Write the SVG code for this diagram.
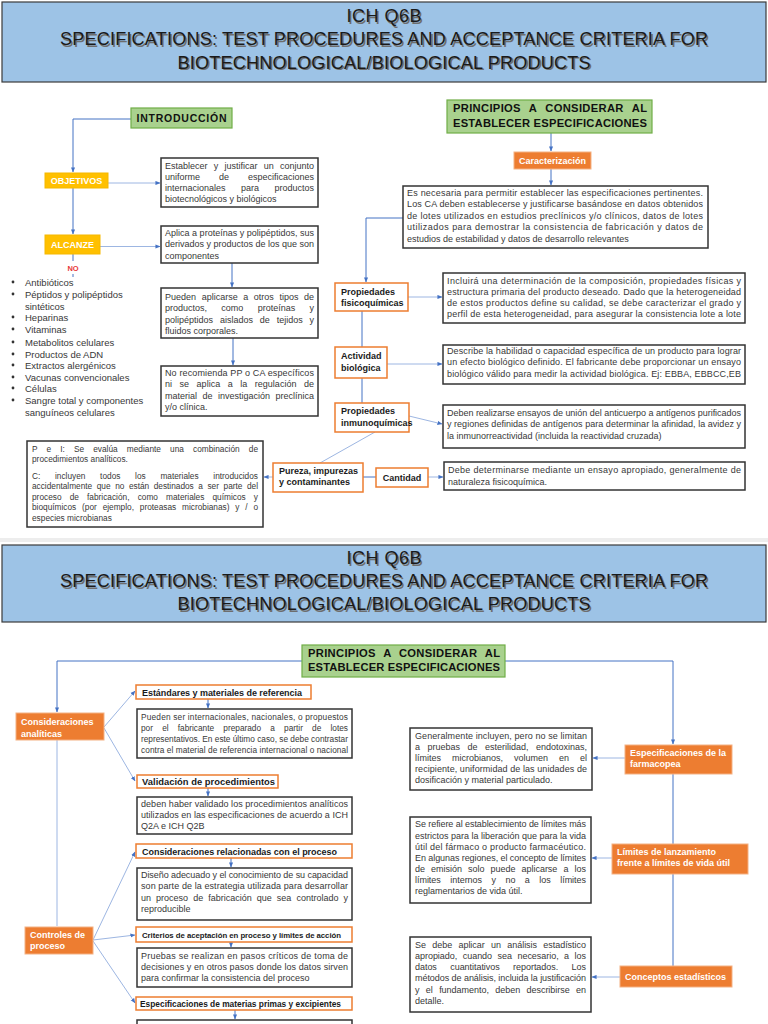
<svg xmlns="http://www.w3.org/2000/svg" width="768" height="1024" viewBox="0 0 768 1024">
<style>
text{font-family:"Liberation Sans",Arial,Helvetica,sans-serif}
.t{font-size:9px;fill:#383838}
.s{font-size:8.3px;fill:#383838}
.li{font-size:9.5px;fill:#383838}
.lb{font-size:9px;font-weight:bold;fill:#1a1a1a}
.w{font-size:9px;font-weight:bold;fill:#ffffff}
.gt{font-size:11.2px;font-weight:bold;fill:#111}
.h{font-size:18px;fill:#1a1a1a;text-anchor:middle}
.hs{fill:#6e6e6e}
.m{text-anchor:middle}
.hdr{fill:#9DC3E6;stroke:#3b3b3b;stroke-width:1.2}
.box{fill:#fff;stroke:#333;stroke-width:1.5}
.ob{fill:#fff;stroke:#ED7D31;stroke-width:1.5}
.of{fill:#ED7D31;stroke:#F4B183;stroke-width:1}
.yf{fill:#FFC000;stroke:#F5B800;stroke-width:1}
.gf{fill:#A9D18E;stroke:#70AD47;stroke-width:1.2}
.c{fill:none;stroke:#4472C4;stroke-width:1}
.cl{fill:none;stroke:#9DB6E2;stroke-width:1}
</style>
<defs>
<marker id="a" viewBox="0 0 6 6" refX="5.5" refY="3" markerWidth="5" markerHeight="5" markerUnits="userSpaceOnUse" orient="auto">
<path d="M0,0.5 L6,3 L0,5.5 z" fill="#4472C4"/>
</marker>
</defs>
<rect width="768" height="1024" fill="#fff"/>
<rect x="0" y="538" width="768" height="4" fill="#EDEDED"/>

<!-- Header 1 -->
<g id="header1">
<rect class="hdr" x="2" y="2" width="764" height="80"/>
<g class="hs" transform="translate(1.6,1.6)">
<text class="h hs" x="384" y="22" textLength="75">ICH Q6B</text>
<text class="h hs" x="384" y="45" textLength="648">SPECIFICATIONS: TEST PROCEDURES AND ACCEPTANCE CRITERIA FOR</text>
<text class="h hs" x="384" y="68.5" textLength="413">BIOTECHNOLOGICAL/BIOLOGICAL PRODUCTS</text>
</g>
<text class="h" x="384" y="22" textLength="75">ICH Q6B</text>
<text class="h" x="384" y="45" textLength="648">SPECIFICATIONS: TEST PROCEDURES AND ACCEPTANCE CRITERIA FOR</text>
<text class="h" x="384" y="68.5" textLength="413">BIOTECHNOLOGICAL/BIOLOGICAL PRODUCTS</text>
</g>

<!-- Connectors -->
<g id="connectors">
<path class="c" d="M131,119 H73 V172" marker-end="url(#a)"/>
<path class="c" d="M73,188 V234" marker-end="url(#a)"/>
<path class="c" d="M73,254 V261"/>
<path class="c" d="M73,274 V277"/>
<path class="cl" d="M108,183 H160" marker-end="url(#a)"/>
<path class="cl" d="M100,246.5 H160" marker-end="url(#a)"/>
<path class="c" d="M232,263 V287" marker-end="url(#a)"/>
<path class="c" d="M233,338 V365" marker-end="url(#a)"/>
<path class="c" d="M551,133 V151" marker-end="url(#a)"/>
<path class="c" d="M551,169 V185" marker-end="url(#a)"/>
<path class="c" d="M403,218 H366 V282" marker-end="url(#a)"/>
<path class="cl" d="M408,297 H442" marker-end="url(#a)"/>
<path class="c" d="M362,311 V347"/>
<path class="cl" d="M387,364 H442" marker-end="url(#a)"/>
<path class="c" d="M362,378 V403"/>
<path class="cl" d="M409,416 L442,424" marker-end="url(#a)"/>
<path class="cl" d="M375,432 L320,463"/>
<path class="cl" d="M273,477 H264" marker-end="url(#a)"/>
<path class="c" d="M363,477 H376"/>
<path class="cl" d="M428,477 H443" marker-end="url(#a)"/>

<path class="c" d="M302,661 H57 V712" marker-end="url(#a)"/>
<path class="c" d="M505,661 H673 V744" marker-end="url(#a)"/>
<path class="cl" d="M104,727 L135,691" marker-end="url(#a)"/>
<path class="cl" d="M104,728 L135,781" marker-end="url(#a)"/>
<path class="c" d="M208,699 V708" marker-end="url(#a)"/>
<path class="c" d="M208,788 V796" marker-end="url(#a)"/>
<path class="cl" d="M57,740 V926"/>
<path class="cl" d="M93,940 L135,852" marker-end="url(#a)"/>
<path class="cl" d="M93,940 L135,935" marker-end="url(#a)"/>
<path class="cl" d="M93,941 L135,1003" marker-end="url(#a)"/>
<path class="c" d="M231,858 V867" marker-end="url(#a)"/>
<path class="c" d="M231,942 V947" marker-end="url(#a)"/>
<path class="c" d="M235,1010 V1019" marker-end="url(#a)"/>
<path class="cl" d="M625,758 H593" marker-end="url(#a)"/>
<path class="c" d="M673,774 V844"/>
<path class="cl" d="M612,858 H592" marker-end="url(#a)"/>
<path class="c" d="M673,874 V966"/>
<path class="cl" d="M620,977 H592" marker-end="url(#a)"/>
</g>

<!-- Page 1 nodes -->
<g id="introduccion">
<rect class="gf" x="131" y="108" width="101" height="20"/>
<text class="gt m" x="181.5" y="122" style="font-size:10.5px" textLength="90">INTRODUCCIÓN</text>
</g>
<g id="objetivos">
<rect class="yf" x="45" y="173" width="63" height="15"/>
<text class="w m" x="76.5" y="184">OBJETIVOS</text>
</g>
<g id="objetivos-desc">
<rect class="box" x="161" y="158" width="157" height="49"/>
<text class="t" x="165" y="169" word-spacing="3.7" textLength="149">Establecer y justificar un conjunto</text>
<text class="t" x="165" y="180" word-spacing="16.5" textLength="149">uniforme de especificaciones</text>
<text class="t" x="165" y="191" word-spacing="13" textLength="149">internacionales para productos</text>
<text class="t" x="165" y="202">biotecnológicos y biológicos</text>
</g>
<g id="alcanze">
<rect class="yf" x="45" y="235" width="55" height="19"/>
<text class="w m" x="72.5" y="248">ALCANZE</text>
</g>
<g id="alcanze-desc">
<rect class="box" x="161" y="226" width="157" height="37"/>
<text class="t" x="165" y="235.5" textLength="149">Aplica a proteínas y polipéptidos, sus</text>
<text class="t" x="165" y="247" textLength="149">derivados y productos de los que son</text>
<text class="t" x="165" y="258.5">componentes</text>
</g>
<g id="no-list">
<text x="73" y="270.5" class="m" style="font-size:7.5px;font-weight:bold;fill:#E8393A">NO</text>
<g fill="#333">
<circle cx="13" cy="282" r="1.4"/><circle cx="13" cy="294" r="1.4"/><circle cx="13" cy="317" r="1.4"/>
<circle cx="13" cy="329" r="1.4"/><circle cx="13" cy="342" r="1.4"/><circle cx="13" cy="354" r="1.4"/>
<circle cx="13" cy="365" r="1.4"/><circle cx="13" cy="377" r="1.4"/><circle cx="13" cy="388" r="1.4"/>
<circle cx="13" cy="400" r="1.4"/>
</g>
<text class="li" x="25" y="285.5">Antibióticos</text>
<text class="li" x="25" y="297.5">Péptidos y polipéptidos</text>
<text class="li" x="25" y="309.5">sintéticos</text>
<text class="li" x="25" y="320.5">Heparinas</text>
<text class="li" x="25" y="332.5">Vitaminas</text>
<text class="li" x="25" y="345.5">Metabolitos celulares</text>
<text class="li" x="25" y="357.5">Productos de ADN</text>
<text class="li" x="25" y="368.5">Extractos alergénicos</text>
<text class="li" x="25" y="380.5">Vacunas convencionales</text>
<text class="li" x="25" y="391.5">Células</text>
<text class="li" x="25" y="403.5">Sangre total y componentes</text>
<text class="li" x="25" y="415.5">sanguíneos celulares</text>
</g>
<g id="pueden-aplicarse">
<rect class="box" x="161" y="288" width="157" height="50"/>
<text class="t" x="165" y="299.5" word-spacing="3" textLength="149">Pueden aplicarse a otros tipos de</text>
<text class="t" x="165" y="311" word-spacing="11.8" textLength="149">productos, como proteínas y</text>
<text class="t" x="165" y="322.5" word-spacing="4.3" textLength="149">polipéptidos aislados de tejidos y</text>
<text class="t" x="165" y="334">fluidos corporales.</text>
</g>
<g id="no-recomienda">
<rect class="box" x="161" y="366" width="157" height="50"/>
<text class="t" x="165" y="375.5" textLength="149">No recomienda PP o CA específicos</text>
<text class="t" x="165" y="387" word-spacing="5" textLength="149">ni se aplica a la regulación de</text>
<text class="t" x="165" y="398.5" word-spacing="3" textLength="149">material de investigación preclínica</text>
<text class="t" x="165" y="410">y/o clínica.</text>
</g>
<g id="principios1">
<rect class="gf" x="447" y="100" width="205" height="33"/>
<text class="gt" x="453" y="111.5" word-spacing="5" textLength="194">PRINCIPIOS A CONSIDERAR AL</text>
<text class="gt" x="453" y="126.5" textLength="194">ESTABLECER ESPECIFICACIONES</text>
</g>
<g id="caracterizacion">
<rect class="of" x="514" y="152" width="77" height="17"/>
<text class="w m" x="552.5" y="164">Caracterización</text>
</g>
<g id="es-necesaria">
<rect class="box" x="403" y="186" width="305" height="62"/>
<text class="t" x="407" y="195.5" textLength="296">Es necesaria para permitir establecer las especificaciones pertinentes.</text>
<text class="t" x="407" y="207" textLength="296">Los CA deben establecerse y justificarse basándose en datos obtenidos</text>
<text class="t" x="407" y="218.5" textLength="296">de lotes utilizados en estudios preclínicos y/o clínicos, datos de lotes</text>
<text class="t" x="407" y="230" textLength="296">utilizados para demostrar la consistencia de fabricación y datos de</text>
<text class="t" x="407" y="241.5">estudios de estabilidad y datos de desarrollo relevantes</text>
</g>
<g id="fisicoquimicas">
<rect class="ob" x="335" y="283" width="73" height="28"/>
<text class="lb" x="341" y="294.5">Propiedades</text>
<text class="lb" x="341" y="306">fisicoquímicas</text>
</g>
<g id="incluira">
<rect class="box" x="443" y="273" width="302" height="50"/>
<text class="t" x="447" y="284" textLength="294">Incluirá una determinación de la composición, propiedades físicas y</text>
<text class="t" x="447" y="295" textLength="294">estructura primaria del producto deseado. Dado que la heterogeneidad</text>
<text class="t" x="447" y="306" textLength="294">de estos productos define su calidad, se debe caracterizar el grado y</text>
<text class="t" x="447" y="317" textLength="294">perfil de esta heterogeneidad, para asegurar la consistencia lote a lote</text>
</g>
<g id="actividad">
<rect class="ob" x="335" y="347" width="52" height="31"/>
<text class="lb" x="341" y="359">Actividad</text>
<text class="lb" x="341" y="371">biológica</text>
</g>
<g id="describe">
<rect class="box" x="443" y="345" width="302" height="39"/>
<text class="t" x="447" y="353.5" textLength="294">Describe la habilidad o capacidad específica de un producto para lograr</text>
<text class="t" x="447" y="365" textLength="294">un efecto biológico definido. El fabricante debe proporcionar un ensayo</text>
<text class="t" x="447" y="376.5" textLength="294">biológico válido para medir la actividad biológica. Ej: EBBA, EBBCC,EB</text>
</g>
<g id="inmunoquimicas">
<rect class="ob" x="335" y="403" width="74" height="29"/>
<text class="lb" x="341" y="413.5">Propiedades</text>
<text class="lb" x="341" y="425.5">inmunoquímicas</text>
</g>
<g id="deben-realizarse">
<rect class="box" x="443" y="405" width="302" height="43"/>
<text class="t" x="447" y="415.5" textLength="294">Deben realizarse ensayos de unión del anticuerpo a antígenos purificados</text>
<text class="t" x="447" y="427" textLength="294">y regiones definidas de antígenos para determinar la afinidad, la avidez y</text>
<text class="t" x="447" y="438.5">la inmunorreactividad (incluida la reactividad cruzada)</text>
</g>
<g id="pureza">
<rect class="ob" x="273" y="463" width="90" height="29"/>
<text class="lb" x="279" y="473.5">Pureza, impurezas</text>
<text class="lb" x="279" y="485">y contaminantes</text>
</g>
<g id="cantidad">
<rect class="ob" x="376" y="468" width="52" height="19"/>
<text class="lb m" x="402" y="481">Cantidad</text>
</g>
<g id="debe-determinarse">
<rect class="box" x="444" y="462" width="301" height="28"/>
<text class="t" x="448" y="473" textLength="293">Debe determinarse mediante un ensayo apropiado, generalmente de</text>
<text class="t" x="448" y="484.5">naturaleza fisicoquímica.</text>
</g>
<g id="pei">
<rect class="box" x="27" y="441" width="236" height="86"/>
<text class="s" x="32" y="451.5" word-spacing="6.8" textLength="226">P e I: Se evalúa mediante una combinación de</text>
<text class="s" x="32" y="462">procedimientos analíticos.</text>
<text class="s" x="32" y="478.5" word-spacing="12.4" textLength="226">C: incluyen todos los materiales introducidos</text>
<text class="s" x="32" y="489" word-spacing="2.3" textLength="226">accidentalmente que no están destinados a ser parte del</text>
<text class="s" x="32" y="499.5" word-spacing="5.8" textLength="226">proceso de fabricación, como materiales químicos y</text>
<text class="s" x="32" y="510" word-spacing="3.5" textLength="226">bioquímicos (por ejemplo, proteasas microbianas) y / o</text>
<text class="s" x="32" y="520.5">especies microbianas</text>
</g>

<!-- Header 2 -->
<g id="header2">
<rect class="hdr" x="2" y="545" width="764" height="77"/>
<g class="hs" transform="translate(1.6,1.6)">
<text class="h hs" x="384" y="564" textLength="75">ICH Q6B</text>
<text class="h hs" x="384" y="587" textLength="648">SPECIFICATIONS: TEST PROCEDURES AND ACCEPTANCE CRITERIA FOR</text>
<text class="h hs" x="384" y="610" textLength="413">BIOTECHNOLOGICAL/BIOLOGICAL PRODUCTS</text>
</g>
<text class="h" x="384" y="564" textLength="75">ICH Q6B</text>
<text class="h" x="384" y="587" textLength="648">SPECIFICATIONS: TEST PROCEDURES AND ACCEPTANCE CRITERIA FOR</text>
<text class="h" x="384" y="610" textLength="413">BIOTECHNOLOGICAL/BIOLOGICAL PRODUCTS</text>
</g>

<!-- Page 2 nodes -->
<g id="principios2">
<rect class="gf" x="302" y="645" width="203" height="32"/>
<text class="gt" x="308" y="657" word-spacing="4.3" textLength="192">PRINCIPIOS A CONSIDERAR AL</text>
<text class="gt" x="308" y="671" textLength="192">ESTABLECER ESPECIFICACIONES</text>
</g>
<g id="consideraciones-analiticas">
<rect class="of" x="16" y="713" width="88" height="27"/>
<text class="w" x="21" y="725">Consideraciones</text>
<text class="w" x="21" y="736.5">analíticas</text>
</g>
<g id="estandares">
<rect class="ob" x="136" y="685" width="175" height="14"/>
<text class="lb" x="142" y="695.5" textLength="160">Estándares y materiales de referencia</text>
</g>
<g id="pueden-ser">
<rect class="box" x="137" y="709" width="215" height="49"/>
<text class="s" x="141" y="720" textLength="207">Pueden ser internacionales, nacionales, o propuestos</text>
<text class="s" x="141" y="731" word-spacing="6.9" textLength="207">por el fabricante preparado a partir de lotes</text>
<text class="s" x="141" y="742" textLength="207">representativos. En este último caso, se debe contrastar</text>
<text class="s" x="141" y="753" textLength="207">contra el material de referencia internacional o nacional</text>
</g>
<g id="validacion">
<rect class="ob" x="137" y="775" width="141" height="13"/>
<text class="lb" x="142" y="785" style="font-size:9.4px" textLength="133">Validación de procedimientos</text>
</g>
<g id="deben-haber">
<rect class="box" x="137" y="797" width="215" height="37"/>
<text class="t" x="141" y="806.5" textLength="207">deben haber validado los procedimientos analíticos</text>
<text class="t" x="141" y="817.5" textLength="207">utilizados en las especificaciones de acuerdo a  ICH</text>
<text class="t" x="141" y="828.5">Q2A e ICH Q2B</text>
</g>
<g id="controles">
<rect class="of" x="25" y="927" width="68" height="27"/>
<text class="w" x="30" y="937.5">Controles de</text>
<text class="w" x="30" y="949">proceso</text>
</g>
<g id="consideraciones-proceso">
<rect class="ob" x="136" y="844" width="216" height="14"/>
<text class="lb" x="142" y="854.5" textLength="195">Consideraciones relacionadas con el proceso</text>
</g>
<g id="diseno">
<rect class="box" x="137" y="868" width="215" height="52"/>
<text class="t" x="141" y="877.5" textLength="207">Diseño adecuado y el conocimiento de su capacidad</text>
<text class="t" x="141" y="889" textLength="207">son parte de la estrategia utilizada para desarrollar</text>
<text class="t" x="141" y="900.5" word-spacing="2.6" textLength="207">un proceso de fabricación que sea controlado y</text>
<text class="t" x="141" y="912">reproducible</text>
</g>
<g id="criterios">
<rect class="ob" x="136" y="927" width="216" height="15"/>
<text class="lb" x="142" y="937.8" style="font-size:7.8px" textLength="199">Criterios de aceptación en proceso y límites de acción</text>
</g>
<g id="pruebas">
<rect class="box" x="137" y="948" width="215" height="39"/>
<text class="t" x="141" y="959" textLength="207">Pruebas se realizan en pasos críticos de toma de</text>
<text class="t" x="141" y="970" textLength="207">decisiones y en otros pasos donde los datos sirven</text>
<text class="t" x="141" y="981">para confirmar la consistencia del proceso</text>
</g>
<g id="materias">
<rect class="ob" x="136" y="997" width="216" height="13"/>
<text class="lb" x="140" y="1007" style="font-size:8.4px" textLength="201">Especificaciones de materias primas y excipientes</text>
</g>
<g id="materias-desc">
<rect class="box" x="137" y="1020" width="215" height="20"/>
</g>
<g id="farmacopea">
<rect class="of" x="625" y="745" width="107" height="29"/>
<text class="w" x="630" y="755.5">Especificaciones de la</text>
<text class="w" x="630" y="767">farmacopea</text>
</g>
<g id="generalmente">
<rect class="box" x="410" y="728" width="182" height="62"/>
<text class="t" x="415" y="739" textLength="172">Generalmente incluyen, pero no se limitan</text>
<text class="t" x="415" y="750" word-spacing="5" textLength="172">a pruebas de esterilidad, endotoxinas,</text>
<text class="t" x="415" y="761" word-spacing="8.5" textLength="172">límites microbianos, volumen en el</text>
<text class="t" x="415" y="772" textLength="172">recipiente, uniformidad de las unidades de</text>
<text class="t" x="415" y="783">dosificación y material particulado.</text>
</g>
<g id="limites">
<rect class="of" x="612" y="844" width="136" height="30"/>
<text class="w" x="617" y="854.5">Límites de lanzamiento</text>
<text class="w" x="617" y="866">frente a límites de vida útil</text>
</g>
<g id="se-refiere">
<rect class="box" x="410" y="817" width="181" height="86"/>
<text class="t" x="415" y="827" textLength="171">Se refiere al establecimiento de límites más</text>
<text class="t" x="415" y="838.5" textLength="171">estrictos para la liberación que para la vida</text>
<text class="t" x="415" y="850" textLength="171">útil del fármaco o producto farmacéutico.</text>
<text class="t" x="415" y="861" textLength="171">En algunas regiones, el concepto de límites</text>
<text class="t" x="415" y="872" word-spacing="3.7" textLength="171">de emisión solo puede aplicarse a los</text>
<text class="t" x="415" y="883" word-spacing="7" textLength="171">límites internos y no a los límites</text>
<text class="t" x="415" y="894">reglamentarios de vida útil.</text>
</g>
<g id="conceptos">
<rect class="of" x="620" y="966" width="112" height="21"/>
<text class="w" x="625" y="980">Conceptos estadísticos</text>
</g>
<g id="se-debe">
<rect class="box" x="410" y="937" width="181" height="75"/>
<text class="t" x="415" y="947.5" word-spacing="3.8" textLength="171">Se debe aplicar un análisis estadístico</text>
<text class="t" x="415" y="959" word-spacing="3" textLength="171">apropiado, cuando sea necesario, a los</text>
<text class="t" x="415" y="970" word-spacing="11" textLength="171">datos cuantitativos reportados. Los</text>
<text class="t" x="415" y="981" textLength="171">métodos de análisis, incluida la justificación</text>
<text class="t" x="415" y="992.5" word-spacing="3.9" textLength="171">y el fundamento, deben describirse en</text>
<text class="t" x="415" y="1004">detalle.</text>
</g>
</svg>
